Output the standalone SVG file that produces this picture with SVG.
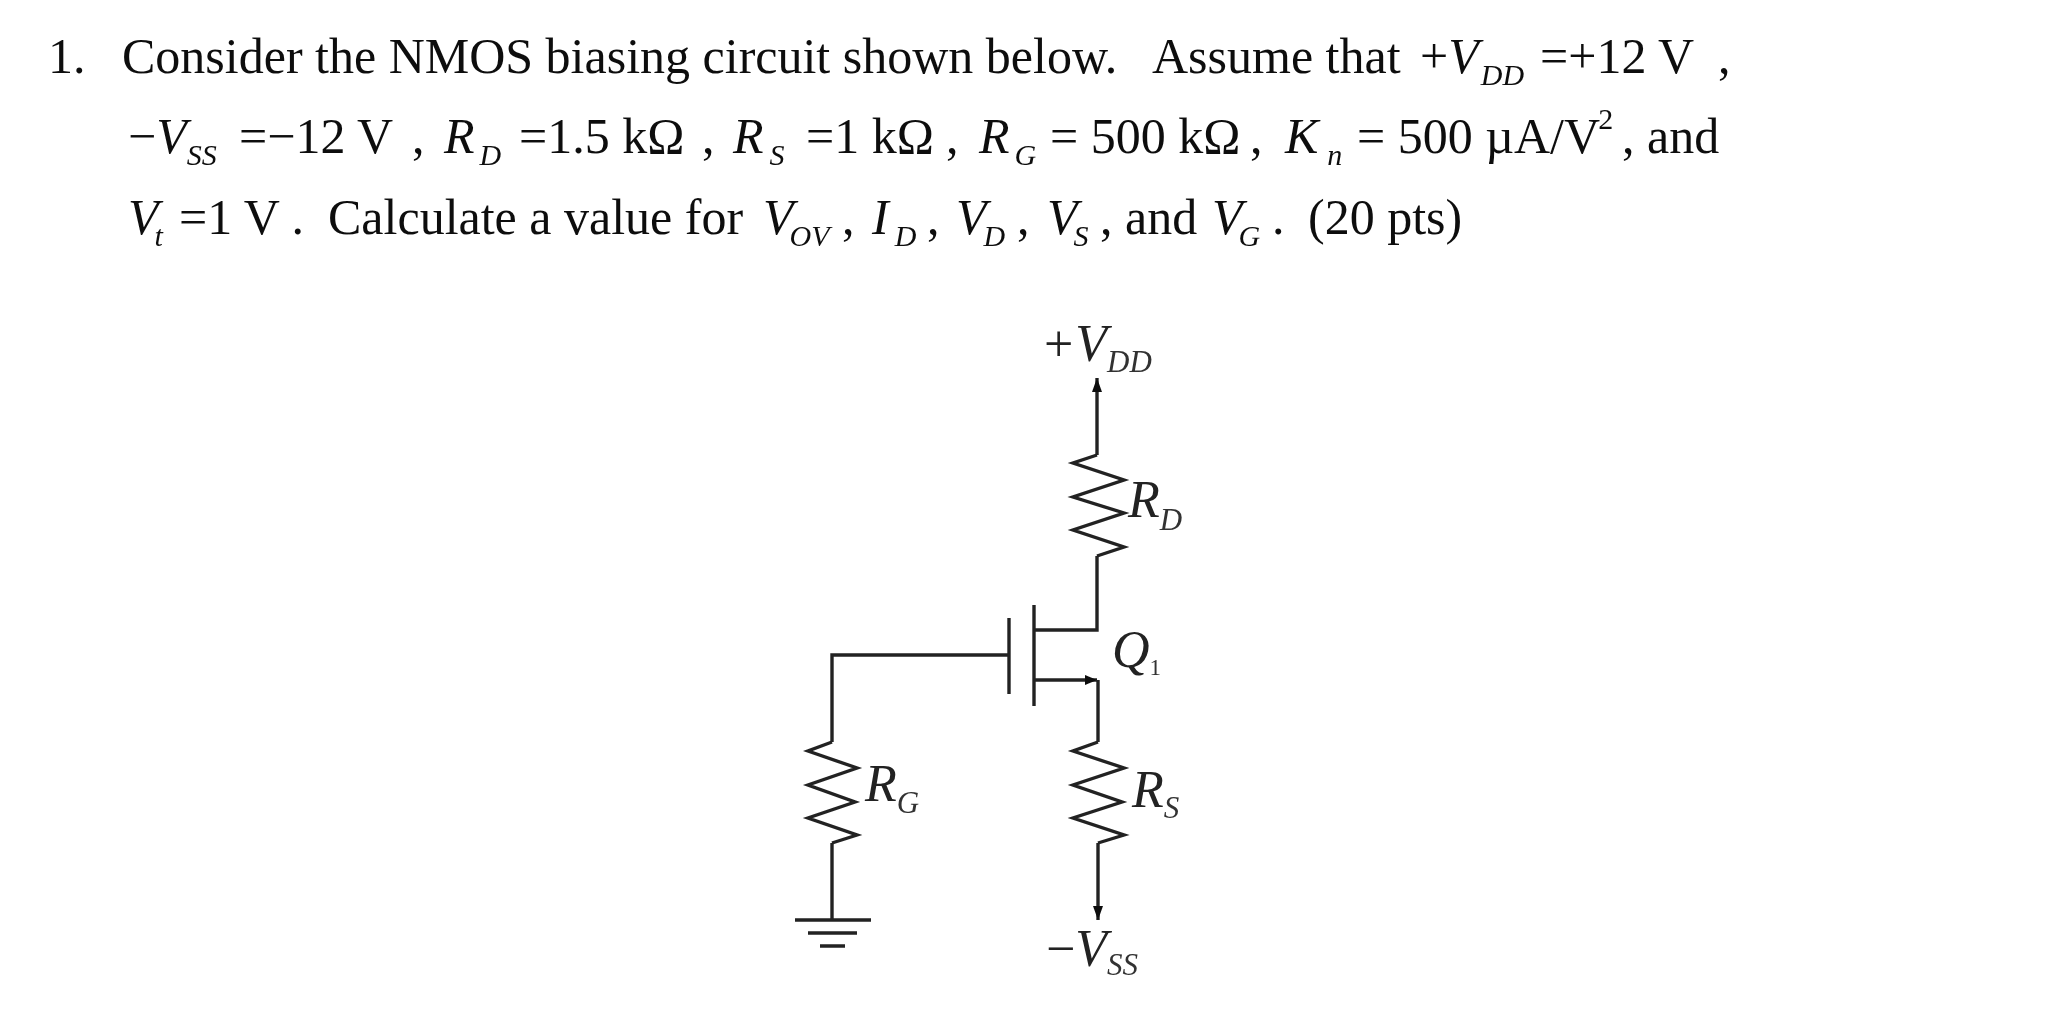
<svg xmlns="http://www.w3.org/2000/svg" width="2046" height="1020" viewBox="0 0 2046 1020">
<style>
text{font-family:"Liberation Serif","Times New Roman",serif;fill:#111}
.t{font-size:50px}
.i{font-size:50px;font-style:italic}
.s{font-size:30px;font-style:italic}
.l{font-size:52px;font-style:italic;fill:#222}
.ls{font-size:31px;font-style:italic;fill:#333}
.r{font-style:normal}
.w{fill:none;stroke:#222;stroke-width:3.4}
.soft{filter:url(#soft)}
</style>
<defs>
<filter id="soft" x="0" y="0" width="2046" height="1020" filterUnits="userSpaceOnUse"><feGaussianBlur stdDeviation="0.6"/></filter>
<marker id="a" markerWidth="14" markerHeight="12" refX="14" refY="6" orient="auto" markerUnits="userSpaceOnUse"><path d="M0 1L14 6L0 11Z" fill="#111"/></marker>
<marker id="b" markerWidth="12" markerHeight="12" refX="12" refY="6" orient="auto" markerUnits="userSpaceOnUse"><path d="M0 1L12 6L0 11Z" fill="#111"/></marker>
</defs>
<rect width="2046" height="1020" fill="#fff"/>
<g id="problem-text" class="soft">
<text class="t" x="48" y="73">1.</text>
<text class="t" x="122" y="73">Consider the NMOS biasing circuit shown below.</text>
<text class="t" x="1152" y="73">Assume that</text>
<text class="t" x="1420" y="73">+<tspan class="i">V</tspan><tspan class="s" dx="2" dy="12">DD</tspan></text>
<text class="t" x="1540" y="73">=+12 V</text>
<text class="t" x="1718" y="73">,</text>
<text class="t" x="128" y="153">−<tspan class="i">V</tspan><tspan class="s" dy="12">SS</tspan></text>
<text class="t" x="239" y="153">=−12 V</text>
<text class="t" x="412" y="153">,</text>
<text class="i" x="444" y="153">R<tspan class="s" dx="5" dy="12">D</tspan></text>
<text class="t" x="519" y="153">=1.5 kΩ</text>
<text class="t" x="702" y="153">,</text>
<text class="i" x="733" y="153">R<tspan class="s" dx="6" dy="12">S</tspan></text>
<text class="t" x="806" y="153">=1 kΩ</text>
<text class="t" x="946" y="153">,</text>
<text class="i" x="979" y="153">R<tspan class="s" dx="5" dy="12">G</tspan></text>
<text class="t" x="1050" y="153">= 500 kΩ</text>
<text class="t" x="1250" y="153">,</text>
<text class="i" x="1285" y="153">K<tspan class="s" dx="9" dy="12">n</tspan></text>
<text class="t" x="1357" y="153">= 500 µA/V<tspan class="s r" dx="-2" dy="-24">2</tspan></text>
<text class="t" x="1622" y="153">, and</text>
<text class="i" x="128" y="234">V<tspan class="s" dx="-4" dy="12">t</tspan></text>
<text class="t" x="179" y="234">=1 V .</text>
<text class="t" x="328" y="234">Calculate a value for</text>
<text class="i" x="763" y="234">V<tspan class="s" dx="-4" dy="12">OV</tspan></text>
<text class="t" x="842" y="234">,</text>
<text class="i" x="872" y="234">I<tspan class="s" dx="6" dy="12">D</tspan></text>
<text class="t" x="927" y="234">,</text>
<text class="i" x="956" y="234">V<tspan class="s" dx="-3" dy="12">D</tspan></text>
<text class="t" x="1017" y="234">,</text>
<text class="i" x="1047" y="234">V<tspan class="s" dx="-4" dy="12">S</tspan></text>
<text class="t" x="1100" y="234">, and</text>
<text class="i" x="1212" y="234">V<tspan class="s" dx="-4" dy="12">G</tspan></text>
<text class="t" x="1272" y="234">.</text>
<text class="t" x="1308" y="234">(20 pts)</text>
</g>
<g id="connectors" class="soft">
<path class="w" marker-end="url(#a)" d="M1097 455V378"/>
<path class="w" d="M1097 556V630H1035"/>
<path class="w" d="M1009 655H832V742"/>
<path class="w" marker-end="url(#b)" d="M1035 680H1097"/>
<path class="w" d="M1098 680V742"/>
<path class="w" marker-end="url(#a)" d="M1098 843V920"/>
<path class="w" d="M832 843V920"/>
</g>
<g id="RD" class="soft"><path class="w" d="M1097 455L1073 463L1124 480L1073 497L1124 513L1073 530L1124 547L1097 556"/><text class="l" x="1128" y="517">R<tspan class="ls" dy="13">D</tspan></text></g>
<g id="Q1" class="soft"><path class="w" d="M1009 618V694M1034 605V706"/><text class="l" x="1112" y="667">Q<tspan class="ls r" dy="8" style="font-size:23px">1</tspan></text></g>
<g id="RG" class="soft"><path class="w" d="M832 742L808 751L857 768L808 785L855 802L808 818L857 835L832 843"/><text class="l" x="865" y="801">R<tspan class="ls" dy="12">G</tspan></text></g>
<g id="RS" class="soft"><path class="w" d="M1098 742L1073 751L1124 768L1073 785L1122 802L1073 818L1124 835L1098 843"/><text class="l" x="1132" y="807">R<tspan class="ls" dy="11">S</tspan></text></g>
<g id="ground" class="soft"><path class="w" d="M795 920H871M808 933H857M820 946H845"/></g>
<g id="VDD" class="soft"><text class="l" x="1044" y="361"><tspan class="r">+</tspan><tspan dx="2">V</tspan><tspan class="ls" dy="11">DD</tspan></text></g>
<g id="VSS" class="soft"><text class="l" x="1046" y="966"><tspan class="r">−</tspan>V<tspan class="ls" dy="9">SS</tspan></text></g>
</svg>
